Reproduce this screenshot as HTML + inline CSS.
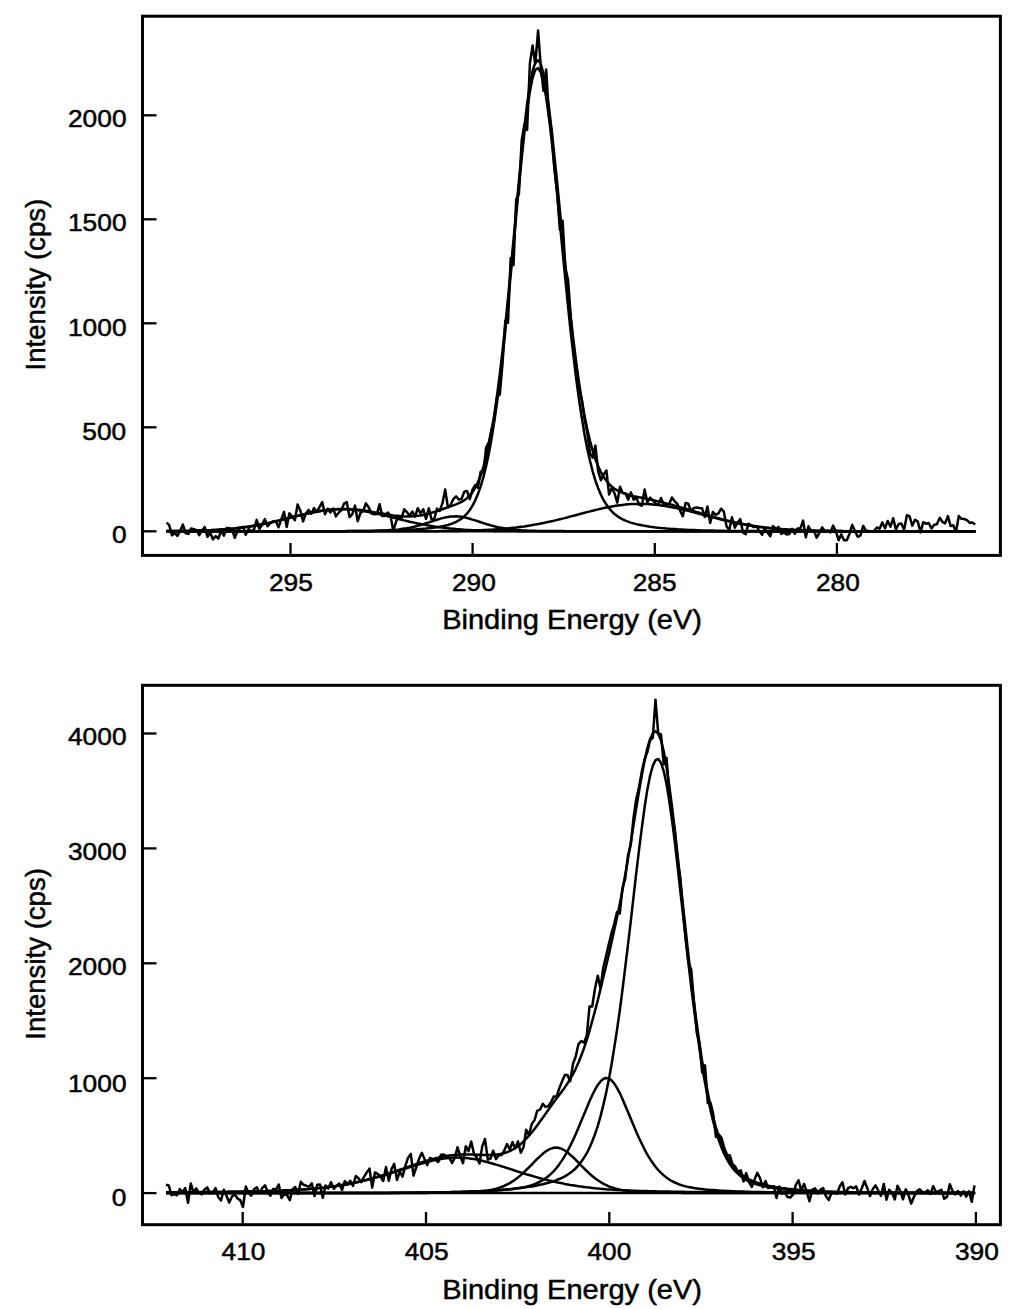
<!DOCTYPE html>
<html><head><meta charset="utf-8"><style>
html,body{margin:0;padding:0;background:#fff;width:1026px;height:1309px;overflow:hidden}
svg{display:block}
.tl{font-family:"Liberation Sans",sans-serif;font-size:25px;fill:#000;stroke:#000;stroke-width:0.5px}
.al{font-family:"Liberation Sans",sans-serif;font-size:28.5px;fill:#000;stroke:#000;stroke-width:0.5px}
</style></head><body>
<svg width="1026" height="1309" viewBox="0 0 1026 1309">
<rect x="142.5" y="16.2" width="857.9" height="539.2" fill="none" stroke="#000" stroke-width="3"/>
<line x1="144" y1="531.3" x2="156.5" y2="531.3" stroke="#000" stroke-width="2.3"/>
<text transform="matrix(1.0530 0 0 0.9850 112.11 543.22)" class="tl">0</text>
<line x1="144" y1="427.3" x2="156.5" y2="427.3" stroke="#000" stroke-width="2.3"/>
<text transform="matrix(1.0530 0 0 0.9850 82.33 440.01)" class="tl">500</text>
<line x1="144" y1="323.3" x2="156.5" y2="323.3" stroke="#000" stroke-width="2.3"/>
<text transform="matrix(1.0530 0 0 0.9850 67.99 335.76)" class="tl">1000</text>
<line x1="144" y1="219.3" x2="156.5" y2="219.3" stroke="#000" stroke-width="2.3"/>
<text transform="matrix(1.0530 0 0 0.9850 67.99 231.42)" class="tl">1500</text>
<line x1="144" y1="115.3" x2="156.5" y2="115.3" stroke="#000" stroke-width="2.3"/>
<text transform="matrix(1.0530 0 0 0.9850 67.99 127.21)" class="tl">2000</text>
<line x1="290.5" y1="543" x2="290.5" y2="554.5" stroke="#000" stroke-width="2.3"/>
<text transform="matrix(1.0530 0 0 0.9850 268.89 591.16)" class="tl">295</text>
<line x1="472.6" y1="543" x2="472.6" y2="554.5" stroke="#000" stroke-width="2.3"/>
<text transform="matrix(1.0530 0 0 0.9850 451.89 591.16)" class="tl">290</text>
<line x1="654.8" y1="543" x2="654.8" y2="554.5" stroke="#000" stroke-width="2.3"/>
<text transform="matrix(1.0530 0 0 0.9850 632.69 591.16)" class="tl">285</text>
<line x1="836.9" y1="543" x2="836.9" y2="554.5" stroke="#000" stroke-width="2.3"/>
<text transform="matrix(1.0530 0 0 0.9850 815.99 591.16)" class="tl">280</text>
<text transform="matrix(1.0190 0 0 1.0000 442.16 628.90)" class="al">Binding Energy (eV)</text>
<text transform="matrix(0 -0.9680 1.0000 0 45.20 370.40)" class="al">Intensity (cps)</text>
<line x1="166.5" y1="531.3" x2="976" y2="531.3" stroke="#000" stroke-width="2.50"/>
<path d="M166.5 531.3L169.2 531.3L172.0 531.3L174.7 531.3L177.4 531.3L180.2 531.3L182.9 531.3L185.6 531.3L188.4 531.3L191.1 531.3L193.8 531.3L196.6 531.3L199.3 531.3L202.0 531.3L204.7 531.3L207.5 531.3L210.2 531.3L212.9 531.3L215.7 531.3L218.4 531.3L221.1 531.3L223.9 531.3L226.6 531.3L229.3 531.3L232.1 531.3L234.8 531.3L237.5 531.3L240.3 531.3L243.0 531.3L245.7 531.3L248.5 531.3L251.2 531.3L253.9 531.3L256.7 531.3L259.4 531.3L262.1 531.3L264.9 531.3L267.6 531.3L270.3 531.3L273.0 531.3L275.8 531.3L278.5 531.3L281.2 531.3L284.0 531.3L286.7 531.3L289.4 531.3L292.2 531.3L294.9 531.3L297.6 531.3L300.4 531.3L303.1 531.3L305.8 531.3L308.6 531.3L311.3 531.3L314.0 531.3L316.8 531.3L319.5 531.3L322.2 531.2L325.0 531.2L327.7 531.2L330.4 531.2L333.2 531.2L335.9 531.2L338.6 531.2L341.3 531.2L344.1 531.2L346.8 531.2L349.5 531.1L352.3 531.1L355.0 531.1L357.7 531.1L360.5 531.0L363.2 531.0L365.9 531.0L368.7 531.0L371.4 530.9L374.1 530.9L376.9 530.8L379.6 530.8L382.3 530.7L385.1 530.7L387.8 530.6L390.5 530.5L393.3 530.4L396.0 530.4L398.7 530.3L401.5 530.1L404.2 530.0L406.9 529.9L409.6 529.8L412.4 529.6L415.1 529.4L417.8 529.2L420.6 529.0L423.3 528.8L426.0 528.6L428.8 528.3L431.5 528.0L434.2 527.6L437.0 527.2L439.7 526.8L442.4 526.3L445.2 525.7L447.9 525.0L450.6 524.1L453.4 523.1L456.1 521.9L458.8 520.4L461.6 518.6L464.3 516.3L467.0 513.5L469.8 510.0L472.5 505.7L475.2 500.5L477.9 494.1L480.7 486.4L483.4 477.1L486.1 466.2L488.9 453.3L491.6 438.4L494.3 421.3L497.1 402.0L499.8 380.5L502.5 356.8L505.3 331.2L508.0 303.8L510.7 275.1L513.5 245.6L516.2 215.8L518.9 186.5L521.7 158.5L524.4 132.7L527.1 110.0L529.9 91.4L532.6 77.8L535.3 69.9L538.1 68.0L540.8 72.3L543.5 82.4L546.2 97.7L549.0 117.5L551.7 140.9L554.4 166.8L557.2 194.5L559.9 223.0L562.6 251.6L565.4 279.8L568.1 307.1L570.8 332.9L573.6 357.1L576.3 379.4L579.0 399.7L581.8 417.9L584.5 434.2L587.2 448.4L590.0 460.8L592.7 471.5L595.4 480.6L598.2 488.3L600.9 494.7L603.6 500.1L606.4 504.6L609.1 508.3L611.8 511.4L614.5 514.0L617.3 516.1L620.0 517.9L622.7 519.3L625.5 520.6L628.2 521.7L630.9 522.6L633.7 523.4L636.4 524.1L639.1 524.7L641.9 525.3L644.6 525.8L647.3 526.2L650.1 526.7L652.8 527.0L655.5 527.4L658.3 527.7L661.0 528.0L663.7 528.2L666.5 528.5L669.2 528.7L671.9 528.9L674.7 529.1L677.4 529.3L680.1 529.4L682.8 529.6L685.6 529.7L688.3 529.9L691.0 530.0L693.8 530.1L696.5 530.2L699.2 530.3L702.0 530.4L704.7 530.4L707.4 530.5L710.2 530.6L712.9 530.6L715.6 530.7L718.4 530.7L721.1 530.8L723.8 530.8L726.6 530.9L729.3 530.9L732.0 530.9L734.8 531.0L737.5 531.0L740.2 531.0L743.0 531.1L745.7 531.1L748.4 531.1L751.1 531.1L753.9 531.1L756.6 531.1L759.3 531.2L762.1 531.2L764.8 531.2L767.5 531.2L770.3 531.2L773.0 531.2L775.7 531.2L778.5 531.2L781.2 531.2L783.9 531.2L786.7 531.3L789.4 531.3L792.1 531.3L794.9 531.3L797.6 531.3L800.3 531.3L803.1 531.3L805.8 531.3L808.5 531.3L811.3 531.3L814.0 531.3L816.7 531.3L819.4 531.3L822.2 531.3L824.9 531.3L827.6 531.3L830.4 531.3L833.1 531.3L835.8 531.3L838.6 531.3L841.3 531.3L844.0 531.3L846.8 531.3L849.5 531.3L852.2 531.3L855.0 531.3L857.7 531.3L860.4 531.3L863.2 531.3L865.9 531.3L868.6 531.3L871.4 531.3L874.1 531.3L876.8 531.3L879.6 531.3L882.3 531.3L885.0 531.3L887.7 531.3L890.5 531.3L893.2 531.3L895.9 531.3L898.7 531.3L901.4 531.3L904.1 531.3L906.9 531.3L909.6 531.3L912.3 531.3L915.1 531.3L917.8 531.3L920.5 531.3L923.3 531.3L926.0 531.3L928.7 531.3L931.5 531.3L934.2 531.3L936.9 531.3L939.7 531.3L942.4 531.3L945.1 531.3L947.9 531.3L950.6 531.3L953.3 531.3L956.0 531.3L958.8 531.3L961.5 531.3L964.2 531.3L967.0 531.3L969.7 531.3L972.4 531.3L975.2 531.3" fill="none" stroke="#000" stroke-width="2.50" stroke-linejoin="round"/>
<path d="M166.5 531.1L169.2 531.1L172.0 531.1L174.7 531.1L177.4 531.1L180.2 531.0L182.9 531.0L185.6 530.9L188.4 530.9L191.1 530.8L193.8 530.8L196.6 530.7L199.3 530.6L202.0 530.6L204.7 530.5L207.5 530.4L210.2 530.2L212.9 530.1L215.7 530.0L218.4 529.8L221.1 529.6L223.9 529.4L226.6 529.2L229.3 529.0L232.1 528.7L234.8 528.4L237.5 528.1L240.3 527.8L243.0 527.5L245.7 527.1L248.5 526.7L251.2 526.3L253.9 525.8L256.7 525.3L259.4 524.8L262.1 524.3L264.9 523.7L267.6 523.2L270.3 522.6L273.0 522.0L275.8 521.3L278.5 520.7L281.2 520.0L284.0 519.3L286.7 518.6L289.4 518.0L292.2 517.3L294.9 516.6L297.6 515.9L300.4 515.2L303.1 514.6L305.8 514.0L308.6 513.3L311.3 512.8L314.0 512.2L316.8 511.7L319.5 511.2L322.2 510.8L325.0 510.4L327.7 510.1L330.4 509.8L333.2 509.6L335.9 509.4L338.6 509.3L341.3 509.3L344.1 509.3L346.8 509.3L349.5 509.5L352.3 509.7L355.0 509.9L357.7 510.2L360.5 510.6L363.2 511.0L365.9 511.5L368.7 512.0L371.4 512.5L374.1 513.1L376.9 513.7L379.6 514.3L382.3 514.9L385.1 515.6L387.8 516.3L390.5 516.9L393.3 517.6L396.0 518.3L398.7 519.0L401.5 519.7L404.2 520.4L406.9 521.0L409.6 521.7L412.4 522.3L415.1 522.9L417.8 523.5L420.6 524.0L423.3 524.6L426.0 525.1L428.8 525.6L431.5 526.0L434.2 526.5L437.0 526.9L439.7 527.3L442.4 527.6L445.2 528.0L447.9 528.3L450.6 528.6L453.4 528.8L456.1 529.1L458.8 529.3L461.6 529.5L464.3 529.7L467.0 529.9L469.8 530.0L472.5 530.2L475.2 530.3L477.9 530.4L480.7 530.5L483.4 530.6L486.1 530.7L488.9 530.8L491.6 530.8L494.3 530.9L497.1 530.9L499.8 531.0L502.5 531.0L505.3 531.0L508.0 531.1L510.7 531.1L513.5 531.1L516.2 531.1L518.9 531.2L521.7 531.2L524.4 531.2L527.1 531.2L529.9 531.2L532.6 531.2L535.3 531.2L538.1 531.2L540.8 531.2L543.5 531.2L546.2 531.2L549.0 531.2L551.7 531.2L554.4 531.3L557.2 531.3L559.9 531.3L562.6 531.3L565.4 531.3L568.1 531.3L570.8 531.3L573.6 531.3L576.3 531.3L579.0 531.3L581.8 531.3L584.5 531.3L587.2 531.3L590.0 531.3L592.7 531.3L595.4 531.3L598.2 531.3L600.9 531.3L603.6 531.3L606.4 531.3L609.1 531.3L611.8 531.3L614.5 531.3L617.3 531.3L620.0 531.3L622.7 531.3L625.5 531.3L628.2 531.3L630.9 531.3L633.7 531.3L636.4 531.3L639.1 531.3L641.9 531.3L644.6 531.3L647.3 531.3L650.1 531.3L652.8 531.3L655.5 531.3L658.3 531.3L661.0 531.3L663.7 531.3L666.5 531.3L669.2 531.3L671.9 531.3L674.7 531.3L677.4 531.3L680.1 531.3L682.8 531.3L685.6 531.3L688.3 531.3L691.0 531.3L693.8 531.3L696.5 531.3L699.2 531.3L702.0 531.3L704.7 531.3L707.4 531.3L710.2 531.3L712.9 531.3L715.6 531.3L718.4 531.3L721.1 531.3L723.8 531.3L726.6 531.3L729.3 531.3L732.0 531.3L734.8 531.3L737.5 531.3L740.2 531.3L743.0 531.3L745.7 531.3L748.4 531.3L751.1 531.3L753.9 531.3L756.6 531.3L759.3 531.3L762.1 531.3L764.8 531.3L767.5 531.3L770.3 531.3L773.0 531.3L775.7 531.3L778.5 531.3L781.2 531.3L783.9 531.3L786.7 531.3L789.4 531.3L792.1 531.3L794.9 531.3L797.6 531.3L800.3 531.3L803.1 531.3L805.8 531.3L808.5 531.3L811.3 531.3L814.0 531.3L816.7 531.3L819.4 531.3L822.2 531.3L824.9 531.3L827.6 531.3L830.4 531.3L833.1 531.3L835.8 531.3L838.6 531.3L841.3 531.3L844.0 531.3L846.8 531.3L849.5 531.3L852.2 531.3L855.0 531.3L857.7 531.3L860.4 531.3L863.2 531.3L865.9 531.3L868.6 531.3L871.4 531.3L874.1 531.3L876.8 531.3L879.6 531.3L882.3 531.3L885.0 531.3L887.7 531.3L890.5 531.3L893.2 531.3L895.9 531.3L898.7 531.3L901.4 531.3L904.1 531.3L906.9 531.3L909.6 531.3L912.3 531.3L915.1 531.3L917.8 531.3L920.5 531.3L923.3 531.3L926.0 531.3L928.7 531.3L931.5 531.3L934.2 531.3L936.9 531.3L939.7 531.3L942.4 531.3L945.1 531.3L947.9 531.3L950.6 531.3L953.3 531.3L956.0 531.3L958.8 531.3L961.5 531.3L964.2 531.3L967.0 531.3L969.7 531.3L972.4 531.3L975.2 531.3" fill="none" stroke="#000" stroke-width="2.50" stroke-linejoin="round"/>
<path d="M166.5 531.3L169.2 531.3L172.0 531.3L174.7 531.3L177.4 531.3L180.2 531.3L182.9 531.3L185.6 531.3L188.4 531.3L191.1 531.3L193.8 531.3L196.6 531.3L199.3 531.3L202.0 531.3L204.7 531.3L207.5 531.3L210.2 531.3L212.9 531.3L215.7 531.3L218.4 531.3L221.1 531.3L223.9 531.3L226.6 531.3L229.3 531.3L232.1 531.3L234.8 531.3L237.5 531.3L240.3 531.3L243.0 531.3L245.7 531.3L248.5 531.3L251.2 531.3L253.9 531.3L256.7 531.3L259.4 531.3L262.1 531.3L264.9 531.3L267.6 531.3L270.3 531.3L273.0 531.3L275.8 531.3L278.5 531.3L281.2 531.3L284.0 531.3L286.7 531.3L289.4 531.3L292.2 531.3L294.9 531.3L297.6 531.3L300.4 531.3L303.1 531.3L305.8 531.3L308.6 531.3L311.3 531.2L314.0 531.2L316.8 531.2L319.5 531.2L322.2 531.2L325.0 531.2L327.7 531.2L330.4 531.2L333.2 531.2L335.9 531.2L338.6 531.2L341.3 531.2L344.1 531.2L346.8 531.1L349.5 531.1L352.3 531.1L355.0 531.1L357.7 531.1L360.5 531.0L363.2 531.0L365.9 531.0L368.7 530.9L371.4 530.9L374.1 530.8L376.9 530.8L379.6 530.7L382.3 530.6L385.1 530.5L387.8 530.3L390.5 530.1L393.3 529.9L396.0 529.7L398.7 529.4L401.5 529.0L404.2 528.6L406.9 528.2L409.6 527.7L412.4 527.1L415.1 526.5L417.8 525.7L420.6 525.0L423.3 524.2L426.0 523.3L428.8 522.4L431.5 521.5L434.2 520.6L437.0 519.7L439.7 518.9L442.4 518.1L445.2 517.5L447.9 516.9L450.6 516.6L453.4 516.4L456.1 516.3L458.8 516.5L461.6 516.8L464.3 517.4L467.0 518.0L469.8 518.7L472.5 519.6L475.2 520.4L477.9 521.3L480.7 522.2L483.4 523.1L486.1 524.0L488.9 524.8L491.6 525.6L494.3 526.3L497.1 527.0L499.8 527.6L502.5 528.1L505.3 528.6L508.0 529.0L510.7 529.3L513.5 529.6L516.2 529.9L518.9 530.1L521.7 530.3L524.4 530.4L527.1 530.6L529.9 530.7L532.6 530.7L535.3 530.8L538.1 530.9L540.8 530.9L543.5 531.0L546.2 531.0L549.0 531.0L551.7 531.1L554.4 531.1L557.2 531.1L559.9 531.1L562.6 531.1L565.4 531.2L568.1 531.2L570.8 531.2L573.6 531.2L576.3 531.2L579.0 531.2L581.8 531.2L584.5 531.2L587.2 531.2L590.0 531.2L592.7 531.2L595.4 531.2L598.2 531.2L600.9 531.3L603.6 531.3L606.4 531.3L609.1 531.3L611.8 531.3L614.5 531.3L617.3 531.3L620.0 531.3L622.7 531.3L625.5 531.3L628.2 531.3L630.9 531.3L633.7 531.3L636.4 531.3L639.1 531.3L641.9 531.3L644.6 531.3L647.3 531.3L650.1 531.3L652.8 531.3L655.5 531.3L658.3 531.3L661.0 531.3L663.7 531.3L666.5 531.3L669.2 531.3L671.9 531.3L674.7 531.3L677.4 531.3L680.1 531.3L682.8 531.3L685.6 531.3L688.3 531.3L691.0 531.3L693.8 531.3L696.5 531.3L699.2 531.3L702.0 531.3L704.7 531.3L707.4 531.3L710.2 531.3L712.9 531.3L715.6 531.3L718.4 531.3L721.1 531.3L723.8 531.3L726.6 531.3L729.3 531.3L732.0 531.3L734.8 531.3L737.5 531.3L740.2 531.3L743.0 531.3L745.7 531.3L748.4 531.3L751.1 531.3L753.9 531.3L756.6 531.3L759.3 531.3L762.1 531.3L764.8 531.3L767.5 531.3L770.3 531.3L773.0 531.3L775.7 531.3L778.5 531.3L781.2 531.3L783.9 531.3L786.7 531.3L789.4 531.3L792.1 531.3L794.9 531.3L797.6 531.3L800.3 531.3L803.1 531.3L805.8 531.3L808.5 531.3L811.3 531.3L814.0 531.3L816.7 531.3L819.4 531.3L822.2 531.3L824.9 531.3L827.6 531.3L830.4 531.3L833.1 531.3L835.8 531.3L838.6 531.3L841.3 531.3L844.0 531.3L846.8 531.3L849.5 531.3L852.2 531.3L855.0 531.3L857.7 531.3L860.4 531.3L863.2 531.3L865.9 531.3L868.6 531.3L871.4 531.3L874.1 531.3L876.8 531.3L879.6 531.3L882.3 531.3L885.0 531.3L887.7 531.3L890.5 531.3L893.2 531.3L895.9 531.3L898.7 531.3L901.4 531.3L904.1 531.3L906.9 531.3L909.6 531.3L912.3 531.3L915.1 531.3L917.8 531.3L920.5 531.3L923.3 531.3L926.0 531.3L928.7 531.3L931.5 531.3L934.2 531.3L936.9 531.3L939.7 531.3L942.4 531.3L945.1 531.3L947.9 531.3L950.6 531.3L953.3 531.3L956.0 531.3L958.8 531.3L961.5 531.3L964.2 531.3L967.0 531.3L969.7 531.3L972.4 531.3L975.2 531.3" fill="none" stroke="#000" stroke-width="2.50" stroke-linejoin="round"/>
<path d="M166.5 531.3L169.2 531.3L172.0 531.3L174.7 531.3L177.4 531.3L180.2 531.3L182.9 531.3L185.6 531.3L188.4 531.3L191.1 531.3L193.8 531.3L196.6 531.3L199.3 531.3L202.0 531.3L204.7 531.3L207.5 531.3L210.2 531.3L212.9 531.3L215.7 531.3L218.4 531.3L221.1 531.3L223.9 531.3L226.6 531.3L229.3 531.3L232.1 531.3L234.8 531.3L237.5 531.3L240.3 531.3L243.0 531.3L245.7 531.3L248.5 531.3L251.2 531.3L253.9 531.3L256.7 531.3L259.4 531.3L262.1 531.3L264.9 531.3L267.6 531.3L270.3 531.3L273.0 531.3L275.8 531.3L278.5 531.3L281.2 531.3L284.0 531.3L286.7 531.3L289.4 531.3L292.2 531.3L294.9 531.3L297.6 531.3L300.4 531.3L303.1 531.3L305.8 531.3L308.6 531.3L311.3 531.3L314.0 531.3L316.8 531.3L319.5 531.3L322.2 531.3L325.0 531.3L327.7 531.3L330.4 531.3L333.2 531.3L335.9 531.3L338.6 531.3L341.3 531.3L344.1 531.3L346.8 531.3L349.5 531.3L352.3 531.3L355.0 531.3L357.7 531.3L360.5 531.3L363.2 531.3L365.9 531.3L368.7 531.3L371.4 531.3L374.1 531.3L376.9 531.3L379.6 531.3L382.3 531.3L385.1 531.3L387.8 531.3L390.5 531.3L393.3 531.3L396.0 531.3L398.7 531.3L401.5 531.3L404.2 531.3L406.9 531.3L409.6 531.3L412.4 531.3L415.1 531.3L417.8 531.3L420.6 531.2L423.3 531.2L426.0 531.2L428.8 531.2L431.5 531.2L434.2 531.2L437.0 531.2L439.7 531.1L442.4 531.1L445.2 531.1L447.9 531.1L450.6 531.0L453.4 531.0L456.1 530.9L458.8 530.9L461.6 530.8L464.3 530.8L467.0 530.7L469.8 530.6L472.5 530.6L475.2 530.5L477.9 530.4L480.7 530.2L483.4 530.1L486.1 530.0L488.9 529.8L491.6 529.7L494.3 529.5L497.1 529.3L499.8 529.1L502.5 528.9L505.3 528.6L508.0 528.4L510.7 528.1L513.5 527.8L516.2 527.5L518.9 527.1L521.7 526.7L524.4 526.4L527.1 525.9L529.9 525.5L532.6 525.1L535.3 524.6L538.1 524.1L540.8 523.5L543.5 523.0L546.2 522.4L549.0 521.8L551.7 521.2L554.4 520.6L557.2 519.9L559.9 519.2L562.6 518.6L565.4 517.9L568.1 517.2L570.8 516.4L573.6 515.7L576.3 515.0L579.0 514.3L581.8 513.5L584.5 512.8L587.2 512.1L590.0 511.4L592.7 510.7L595.4 510.0L598.2 509.4L600.9 508.7L603.6 508.1L606.4 507.6L609.1 507.0L611.8 506.5L614.5 506.0L617.3 505.6L620.0 505.2L622.7 504.9L625.5 504.6L628.2 504.3L630.9 504.1L633.7 504.0L636.4 503.9L639.1 503.8L641.9 503.9L644.6 503.9L647.3 504.0L650.1 504.2L652.8 504.4L655.5 504.7L658.3 505.0L661.0 505.4L663.7 505.8L666.5 506.2L669.2 506.7L671.9 507.2L674.7 507.8L677.4 508.4L680.1 509.0L682.8 509.6L685.6 510.3L688.3 510.9L691.0 511.6L693.8 512.4L696.5 513.1L699.2 513.8L702.0 514.5L704.7 515.3L707.4 516.0L710.2 516.7L712.9 517.4L715.6 518.1L718.4 518.8L721.1 519.5L723.8 520.2L726.6 520.8L729.3 521.4L732.0 522.0L734.8 522.6L737.5 523.2L740.2 523.7L743.0 524.3L745.7 524.7L748.4 525.2L751.1 525.7L753.9 526.1L756.6 526.5L759.3 526.9L762.1 527.2L764.8 527.6L767.5 527.9L770.3 528.2L773.0 528.5L775.7 528.7L778.5 529.0L781.2 529.2L783.9 529.4L786.7 529.6L789.4 529.7L792.1 529.9L794.9 530.0L797.6 530.2L800.3 530.3L803.1 530.4L805.8 530.5L808.5 530.6L811.3 530.7L814.0 530.7L816.7 530.8L819.4 530.9L822.2 530.9L824.9 531.0L827.6 531.0L830.4 531.0L833.1 531.1L835.8 531.1L838.6 531.1L841.3 531.1L844.0 531.2L846.8 531.2L849.5 531.2L852.2 531.2L855.0 531.2L857.7 531.2L860.4 531.2L863.2 531.3L865.9 531.3L868.6 531.3L871.4 531.3L874.1 531.3L876.8 531.3L879.6 531.3L882.3 531.3L885.0 531.3L887.7 531.3L890.5 531.3L893.2 531.3L895.9 531.3L898.7 531.3L901.4 531.3L904.1 531.3L906.9 531.3L909.6 531.3L912.3 531.3L915.1 531.3L917.8 531.3L920.5 531.3L923.3 531.3L926.0 531.3L928.7 531.3L931.5 531.3L934.2 531.3L936.9 531.3L939.7 531.3L942.4 531.3L945.1 531.3L947.9 531.3L950.6 531.3L953.3 531.3L956.0 531.3L958.8 531.3L961.5 531.3L964.2 531.3L967.0 531.3L969.7 531.3L972.4 531.3L975.2 531.3" fill="none" stroke="#000" stroke-width="2.50" stroke-linejoin="round"/>
<path d="M166.5 531.1L169.2 531.1L172.0 531.1L174.7 531.1L177.4 531.1L180.2 531.0L182.9 531.0L185.6 530.9L188.4 530.9L191.1 530.8L193.8 530.8L196.6 530.7L199.3 530.6L202.0 530.6L204.7 530.5L207.5 530.4L210.2 530.2L212.9 530.1L215.7 530.0L218.4 529.8L221.1 529.6L223.9 529.4L226.6 529.2L229.3 529.0L232.1 528.7L234.8 528.4L237.5 528.1L240.3 527.8L243.0 527.5L245.7 527.1L248.5 526.7L251.2 526.3L253.9 525.8L256.7 525.3L259.4 524.8L262.1 524.3L264.9 523.7L267.6 523.2L270.3 522.6L273.0 521.9L275.8 521.3L278.5 520.6L281.2 520.0L284.0 519.3L286.7 518.6L289.4 517.9L292.2 517.2L294.9 516.5L297.6 515.9L300.4 515.2L303.1 514.5L305.8 513.9L308.6 513.3L311.3 512.7L314.0 512.1L316.8 511.6L319.5 511.1L322.2 510.7L325.0 510.3L327.7 509.9L330.4 509.6L333.2 509.4L335.9 509.2L338.6 509.1L341.3 509.0L344.1 509.0L346.8 509.0L349.5 509.1L352.3 509.3L355.0 509.5L357.7 509.8L360.5 510.1L363.2 510.4L365.9 510.8L368.7 511.2L371.4 511.7L374.1 512.2L376.9 512.6L379.6 513.1L382.3 513.6L385.1 514.1L387.8 514.6L390.5 515.0L393.3 515.4L396.0 515.7L398.7 516.0L401.5 516.3L404.2 516.4L406.9 516.5L409.6 516.5L412.4 516.3L415.1 516.1L417.8 515.8L420.6 515.4L423.3 514.9L426.0 514.3L428.8 513.6L431.5 512.8L434.2 512.0L437.0 511.1L439.7 510.2L442.4 509.3L445.2 508.3L447.9 507.4L450.6 506.4L453.4 505.4L456.1 504.4L458.8 503.2L461.6 501.9L464.3 500.2L467.0 498.2L469.8 495.5L472.5 492.1L475.2 487.8L477.9 482.3L480.7 475.5L483.4 467.1L486.1 456.9L488.9 444.8L491.6 430.6L494.3 414.1L497.1 395.3L499.8 374.2L502.5 350.9L505.3 325.5L508.0 298.3L510.7 269.7L513.5 240.2L516.2 210.4L518.9 181.0L521.7 152.8L524.4 126.8L527.1 103.8L529.9 84.9L532.6 70.9L535.3 62.6L538.1 60.3L540.8 64.1L543.5 73.6L546.2 88.5L549.0 107.7L551.7 130.5L554.4 155.8L557.2 182.9L559.9 210.7L562.6 238.7L565.4 266.2L568.1 292.7L570.8 317.9L573.6 341.3L576.3 362.9L579.0 382.5L581.8 400.1L584.5 415.6L587.2 429.1L590.0 440.8L592.7 450.8L595.4 459.2L598.2 466.3L600.9 472.1L603.6 476.9L606.4 480.8L609.1 484.0L611.8 486.6L614.5 488.7L617.3 490.4L620.0 491.7L622.7 492.9L625.5 493.8L628.2 494.7L630.9 495.4L633.7 496.1L636.4 496.7L639.1 497.3L641.9 497.8L644.6 498.4L647.3 499.0L650.1 499.5L652.8 500.1L655.5 500.7L658.3 501.4L661.0 502.0L663.7 502.7L666.5 503.4L669.2 504.1L671.9 504.8L674.7 505.6L677.4 506.3L680.1 507.1L682.8 507.9L685.6 508.7L688.3 509.5L691.0 510.3L693.8 511.1L696.5 512.0L699.2 512.8L702.0 513.6L704.7 514.4L707.4 515.2L710.2 516.0L712.9 516.8L715.6 517.5L718.4 518.3L721.1 519.0L723.8 519.7L726.6 520.4L729.3 521.0L732.0 521.7L734.8 522.3L737.5 522.9L740.2 523.5L743.0 524.0L745.7 524.5L748.4 525.0L751.1 525.5L753.9 525.9L756.6 526.4L759.3 526.7L762.1 527.1L764.8 527.5L767.5 527.8L770.3 528.1L773.0 528.4L775.7 528.6L778.5 528.9L781.2 529.1L783.9 529.3L786.7 529.5L789.4 529.7L792.1 529.8L794.9 530.0L797.6 530.1L800.3 530.3L803.1 530.4L805.8 530.5L808.5 530.6L811.3 530.6L814.0 530.7L816.7 530.8L819.4 530.8L822.2 530.9L824.9 530.9L827.6 531.0L830.4 531.0L833.1 531.1L835.8 531.1L838.6 531.1L841.3 531.1L844.0 531.2L846.8 531.2L849.5 531.2L852.2 531.2L855.0 531.2L857.7 531.2L860.4 531.2L863.2 531.3L865.9 531.3L868.6 531.3L871.4 531.3L874.1 531.3L876.8 531.3L879.6 531.3L882.3 531.3L885.0 531.3L887.7 531.3L890.5 531.3L893.2 531.3L895.9 531.3L898.7 531.3L901.4 531.3L904.1 531.3L906.9 531.3L909.6 531.3L912.3 531.3L915.1 531.3L917.8 531.3L920.5 531.3L923.3 531.3L926.0 531.3L928.7 531.3L931.5 531.3L934.2 531.3L936.9 531.3L939.7 531.3L942.4 531.3L945.1 531.3L947.9 531.3L950.6 531.3L953.3 531.3L956.0 531.3L958.8 531.3L961.5 531.3L964.2 531.3L967.0 531.3L969.7 531.3L972.4 531.3L975.2 531.3" fill="none" stroke="#000" stroke-width="2.50" stroke-linejoin="round"/>
<path d="M166.5 522.6L169.2 525.1L172.0 535.3L174.7 533.2L177.4 535.8L180.2 530.7L182.9 524.6L185.6 533.3L188.4 533.9L191.1 528.5L193.8 529.1L196.6 530.2L199.3 535.1L202.0 530.7L204.7 527.1L207.5 536.8L210.2 532.4L212.9 539.3L215.7 536.2L218.4 538.7L221.1 530.8L223.9 535.6L226.6 527.9L229.3 528.2L232.1 529.6L234.8 537.8L237.5 530.8L240.3 528.0L243.0 526.9L245.7 534.7L248.5 529.1L251.2 531.2L253.9 529.9L256.7 519.9L259.4 529.0L262.1 524.5L264.9 519.1L267.6 526.2L270.3 523.1L273.0 521.3L275.8 521.0L278.5 527.3L281.2 519.6L284.0 511.9L286.7 527.1L289.4 513.2L292.2 516.6L294.9 520.2L297.6 504.5L300.4 510.8L303.1 521.4L305.8 513.5L308.6 509.9L311.3 513.8L314.0 508.1L316.8 512.0L319.5 507.2L322.2 502.1L325.0 514.3L327.7 508.7L330.4 512.4L333.2 508.6L335.9 516.4L338.6 512.6L341.3 510.2L344.1 503.6L346.8 502.1L349.5 517.1L352.3 514.1L355.0 505.6L357.7 521.2L360.5 512.9L363.2 511.0L365.9 503.4L368.7 507.2L371.4 513.6L374.1 514.3L376.9 514.1L379.6 504.3L382.3 516.1L385.1 515.8L387.8 512.5L390.5 515.6L393.3 530.9L396.0 521.9L398.7 515.8L401.5 518.4L404.2 509.3L406.9 512.1L409.6 515.7L412.4 511.5L415.1 516.7L417.8 508.2L420.6 513.4L423.3 509.2L426.0 519.0L428.8 508.4L431.5 519.1L434.2 519.2L437.0 508.6L439.7 511.0L442.4 503.4L445.2 489.6L447.9 507.3L450.6 505.1L453.4 499.0L456.1 496.3L458.8 499.6L461.6 498.7L464.3 491.6L467.0 491.0L469.8 499.1L472.5 489.7L475.2 485.0L477.9 487.8L480.7 471.7L483.4 472.4L486.1 447.6L488.9 442.2L491.6 429.0L494.3 419.3L497.1 396.1L499.8 394.7L502.5 363.8L505.3 320.8L508.0 322.8L510.7 258.1L513.5 265.1L516.2 199.0L518.9 194.1L521.7 140.3L524.4 124.6L527.1 130.0L529.9 63.2L532.6 45.6L535.3 63.7L538.1 30.6L540.8 66.9L543.5 90.8L546.2 69.5L549.0 116.9L551.7 131.3L554.4 168.6L557.2 192.6L559.9 229.8L562.6 220.7L565.4 268.3L568.1 280.1L570.8 317.7L573.6 349.6L576.3 366.6L579.0 388.5L581.8 400.0L584.5 419.2L587.2 431.9L590.0 453.1L592.7 457.7L595.4 445.6L598.2 471.6L600.9 480.2L603.6 474.4L606.4 470.5L609.1 494.5L611.8 488.1L614.5 493.1L617.3 502.6L620.0 486.7L622.7 493.0L625.5 493.4L628.2 499.7L630.9 492.4L633.7 499.7L636.4 497.6L639.1 504.6L641.9 505.8L644.6 489.6L647.3 502.3L650.1 497.6L652.8 500.3L655.5 503.6L658.3 504.6L661.0 498.0L663.7 504.6L666.5 504.3L669.2 503.9L671.9 497.5L674.7 501.3L677.4 504.0L680.1 510.6L682.8 516.3L685.6 502.9L688.3 503.7L691.0 511.2L693.8 507.9L696.5 507.4L699.2 507.9L702.0 508.2L704.7 517.0L707.4 506.5L710.2 523.0L712.9 511.9L715.6 514.8L718.4 513.4L721.1 508.7L723.8 511.6L726.6 526.6L729.3 530.1L732.0 517.3L734.8 527.7L737.5 523.0L740.2 519.1L743.0 532.6L745.7 534.3L748.4 523.7L751.1 525.3L753.9 527.2L756.6 526.2L759.3 531.1L762.1 534.7L764.8 528.3L767.5 532.6L770.3 536.2L773.0 525.9L775.7 528.9L778.5 526.9L781.2 533.9L783.9 532.5L786.7 534.4L789.4 534.0L792.1 528.9L794.9 533.8L797.6 528.4L800.3 528.6L803.1 520.6L805.8 537.2L808.5 526.3L811.3 531.1L814.0 530.8L816.7 537.7L819.4 533.0L822.2 527.4L824.9 531.3L827.6 530.6L830.4 532.4L833.1 525.6L835.8 531.2L838.6 540.2L841.3 534.4L844.0 540.2L846.8 540.2L849.5 533.7L852.2 524.9L855.0 531.0L857.7 536.8L860.4 535.7L863.2 525.9L865.9 530.5L868.6 531.0L871.4 531.5L874.1 531.1L876.8 527.5L879.6 528.7L882.3 522.4L885.0 528.3L887.7 521.0L890.5 526.6L893.2 518.2L895.9 529.4L898.7 524.0L901.4 523.4L904.1 529.7L906.9 515.2L909.6 516.5L912.3 525.6L915.1 519.7L917.8 521.6L920.5 532.4L923.3 522.2L926.0 523.7L928.7 523.0L931.5 528.5L934.2 524.7L936.9 524.2L939.7 517.8L942.4 521.8L945.1 523.4L947.9 516.1L950.6 526.0L953.3 525.2L956.0 532.0L958.8 516.0L961.5 518.8L964.2 519.0L967.0 520.2L969.7 522.9L972.4 522.4L975.2 524.6" fill="none" stroke="#000" stroke-width="2.50" stroke-linejoin="round"/>
<rect x="142.5" y="685.3" width="857.9" height="539.4" fill="none" stroke="#000" stroke-width="3"/>
<line x1="144" y1="1193.1" x2="156.5" y2="1193.1" stroke="#000" stroke-width="2.3"/>
<text transform="matrix(1.0530 0 0 0.9850 111.81 1206.21)" class="tl">0</text>
<line x1="144" y1="1078.2" x2="156.5" y2="1078.2" stroke="#000" stroke-width="2.3"/>
<text transform="matrix(1.0530 0 0 0.9850 67.99 1091.66)" class="tl">1000</text>
<line x1="144" y1="963.3" x2="156.5" y2="963.3" stroke="#000" stroke-width="2.3"/>
<text transform="matrix(1.0530 0 0 0.9850 67.99 975.12)" class="tl">2000</text>
<line x1="144" y1="848.4" x2="156.5" y2="848.4" stroke="#000" stroke-width="2.3"/>
<text transform="matrix(1.0530 0 0 0.9850 67.99 859.82)" class="tl">3000</text>
<line x1="144" y1="733.5" x2="156.5" y2="733.5" stroke="#000" stroke-width="2.3"/>
<text transform="matrix(1.0530 0 0 0.9850 67.99 745.12)" class="tl">4000</text>
<line x1="242.7" y1="1212" x2="242.7" y2="1223.5" stroke="#000" stroke-width="2.3"/>
<text transform="matrix(1.0530 0 0 0.9850 221.59 1260.46)" class="tl">410</text>
<line x1="426.0" y1="1212" x2="426.0" y2="1223.5" stroke="#000" stroke-width="2.3"/>
<text transform="matrix(1.0530 0 0 0.9850 404.69 1260.46)" class="tl">405</text>
<line x1="609.3" y1="1212" x2="609.3" y2="1223.5" stroke="#000" stroke-width="2.3"/>
<text transform="matrix(1.0530 0 0 0.9850 587.39 1260.46)" class="tl">400</text>
<line x1="792.6" y1="1212" x2="792.6" y2="1223.5" stroke="#000" stroke-width="2.3"/>
<text transform="matrix(1.0530 0 0 0.9850 771.69 1260.46)" class="tl">395</text>
<line x1="975.9" y1="1212" x2="975.9" y2="1223.5" stroke="#000" stroke-width="2.3"/>
<text transform="matrix(1.0530 0 0 0.9850 954.89 1260.46)" class="tl">390</text>
<text transform="matrix(1.0190 0 0 1.0000 442.16 1298.60)" class="al">Binding Energy (eV)</text>
<text transform="matrix(0 -0.9680 1.0000 0 45.20 1039.70)" class="al">Intensity (cps)</text>
<line x1="166" y1="1193.1" x2="975.5" y2="1193.1" stroke="#000" stroke-width="2.50"/>
<path d="M166.0 1193.1L168.8 1193.1L171.5 1193.1L174.2 1193.1L177.0 1193.1L179.8 1193.1L182.5 1193.1L185.2 1193.1L188.0 1193.1L190.8 1193.1L193.5 1193.1L196.2 1193.1L199.0 1193.1L201.8 1193.1L204.5 1193.1L207.2 1193.1L210.0 1193.1L212.8 1193.1L215.5 1193.1L218.2 1193.1L221.0 1193.1L223.8 1193.1L226.5 1193.1L229.2 1193.1L232.0 1193.1L234.8 1193.1L237.5 1193.1L240.2 1193.1L243.0 1193.1L245.8 1193.1L248.5 1193.1L251.2 1193.1L254.0 1193.1L256.8 1193.1L259.5 1193.1L262.2 1193.1L265.0 1193.1L267.8 1193.1L270.5 1193.1L273.2 1193.1L276.0 1193.1L278.8 1193.1L281.5 1193.1L284.2 1193.1L287.0 1193.1L289.8 1193.1L292.5 1193.1L295.2 1193.1L298.0 1193.1L300.8 1193.1L303.5 1193.1L306.2 1193.1L309.0 1193.1L311.8 1193.1L314.5 1193.1L317.2 1193.1L320.0 1193.1L322.8 1193.1L325.5 1193.1L328.2 1193.1L331.0 1193.1L333.8 1193.1L336.5 1193.1L339.2 1193.1L342.0 1193.1L344.8 1193.0L347.5 1193.0L350.2 1193.0L353.0 1193.0L355.8 1193.0L358.5 1193.0L361.2 1193.0L364.0 1193.0L366.8 1193.0L369.5 1193.0L372.2 1193.0L375.0 1193.0L377.8 1193.0L380.5 1193.0L383.2 1192.9L386.0 1192.9L388.8 1192.9L391.5 1192.9L394.2 1192.9L397.0 1192.9L399.8 1192.9L402.5 1192.8L405.2 1192.8L408.0 1192.8L410.8 1192.8L413.5 1192.7L416.2 1192.7L419.0 1192.7L421.8 1192.7L424.5 1192.6L427.2 1192.6L430.0 1192.5L432.8 1192.5L435.5 1192.5L438.2 1192.4L441.0 1192.4L443.8 1192.3L446.5 1192.3L449.2 1192.2L452.0 1192.1L454.8 1192.1L457.5 1192.0L460.2 1191.9L463.0 1191.8L465.8 1191.7L468.5 1191.6L471.2 1191.5L474.0 1191.4L476.8 1191.3L479.5 1191.2L482.2 1191.1L485.0 1190.9L487.8 1190.8L490.5 1190.6L493.2 1190.4L496.0 1190.3L498.8 1190.1L501.5 1189.9L504.2 1189.6L507.0 1189.4L509.8 1189.2L512.5 1188.9L515.2 1188.6L518.0 1188.3L520.8 1187.9L523.5 1187.6L526.2 1187.2L529.0 1186.8L531.8 1186.4L534.5 1185.9L537.2 1185.4L540.0 1184.8L542.8 1184.2L545.5 1183.5L548.2 1182.8L551.0 1182.0L553.8 1181.1L556.5 1180.2L559.2 1179.0L562.0 1177.8L564.8 1176.4L567.5 1174.7L570.2 1172.9L573.0 1170.7L575.8 1168.2L578.5 1165.2L581.2 1161.8L584.0 1157.8L586.8 1153.2L589.5 1147.7L592.2 1141.5L595.0 1134.2L597.8 1125.9L600.5 1116.4L603.2 1105.6L606.0 1093.4L608.8 1079.8L611.5 1064.7L614.2 1048.1L617.0 1030.0L619.8 1010.5L622.5 989.7L625.2 967.7L628.0 944.7L630.8 921.1L633.5 897.1L636.2 873.3L639.0 850.1L641.8 828.1L644.5 808.0L647.2 790.4L650.0 776.2L652.8 765.9L655.5 760.1L658.2 759.0L661.0 762.8L663.8 771.3L666.5 784.1L669.2 800.6L672.0 820.1L674.8 841.9L677.5 865.4L680.2 889.8L683.0 914.6L685.8 939.3L688.5 963.5L691.2 986.8L694.0 1008.9L696.8 1029.7L699.5 1049.0L702.2 1066.7L705.0 1082.8L707.8 1097.3L710.5 1110.1L713.2 1121.5L716.0 1131.5L718.8 1140.1L721.5 1147.6L724.2 1153.9L727.0 1159.4L729.8 1164.0L732.5 1167.9L735.2 1171.2L738.0 1173.9L740.8 1176.3L743.5 1178.2L746.2 1179.9L749.0 1181.3L751.8 1182.5L754.5 1183.6L757.2 1184.5L760.0 1185.2L762.8 1185.9L765.5 1186.6L768.2 1187.1L771.0 1187.6L773.8 1188.1L776.5 1188.5L779.2 1188.8L782.0 1189.2L784.8 1189.5L787.5 1189.8L790.2 1190.0L793.0 1190.3L795.8 1190.5L798.5 1190.7L801.2 1190.9L804.0 1191.1L806.8 1191.2L809.5 1191.4L812.2 1191.5L815.0 1191.6L817.8 1191.8L820.5 1191.9L823.2 1192.0L826.0 1192.1L828.8 1192.2L831.5 1192.2L834.2 1192.3L837.0 1192.4L839.8 1192.4L842.5 1192.5L845.2 1192.5L848.0 1192.6L850.8 1192.6L853.5 1192.7L856.2 1192.7L859.0 1192.7L861.8 1192.8L864.5 1192.8L867.2 1192.8L870.0 1192.9L872.8 1192.9L875.5 1192.9L878.2 1192.9L881.0 1192.9L883.8 1192.9L886.5 1193.0L889.2 1193.0L892.0 1193.0L894.8 1193.0L897.5 1193.0L900.2 1193.0L903.0 1193.0L905.8 1193.0L908.5 1193.0L911.2 1193.0L914.0 1193.0L916.8 1193.1L919.5 1193.1L922.2 1193.1L925.0 1193.1L927.8 1193.1L930.5 1193.1L933.2 1193.1L936.0 1193.1L938.8 1193.1L941.5 1193.1L944.2 1193.1L947.0 1193.1L949.8 1193.1L952.5 1193.1L955.2 1193.1L958.0 1193.1L960.8 1193.1L963.5 1193.1L966.2 1193.1L969.0 1193.1L971.8 1193.1L974.5 1193.1" fill="none" stroke="#000" stroke-width="2.50" stroke-linejoin="round"/>
<path d="M166.0 1193.1L168.8 1193.1L171.5 1193.1L174.2 1193.1L177.0 1193.1L179.8 1193.1L182.5 1193.1L185.2 1193.1L188.0 1193.1L190.8 1193.1L193.5 1193.1L196.2 1193.1L199.0 1193.1L201.8 1193.1L204.5 1193.1L207.2 1193.1L210.0 1193.1L212.8 1193.1L215.5 1193.1L218.2 1193.1L221.0 1193.1L223.8 1193.1L226.5 1193.1L229.2 1193.1L232.0 1193.1L234.8 1193.1L237.5 1193.1L240.2 1193.1L243.0 1193.1L245.8 1193.1L248.5 1193.1L251.2 1193.1L254.0 1193.1L256.8 1193.1L259.5 1193.1L262.2 1193.1L265.0 1193.1L267.8 1193.1L270.5 1193.1L273.2 1193.1L276.0 1193.1L278.8 1193.1L281.5 1193.1L284.2 1193.1L287.0 1193.1L289.8 1193.1L292.5 1193.1L295.2 1193.1L298.0 1193.1L300.8 1193.1L303.5 1193.1L306.2 1193.1L309.0 1193.1L311.8 1193.1L314.5 1193.1L317.2 1193.1L320.0 1193.1L322.8 1193.0L325.5 1193.0L328.2 1193.0L331.0 1193.0L333.8 1193.0L336.5 1193.0L339.2 1193.0L342.0 1193.0L344.8 1193.0L347.5 1193.0L350.2 1193.0L353.0 1193.0L355.8 1193.0L358.5 1193.0L361.2 1193.0L364.0 1193.0L366.8 1192.9L369.5 1192.9L372.2 1192.9L375.0 1192.9L377.8 1192.9L380.5 1192.9L383.2 1192.9L386.0 1192.9L388.8 1192.9L391.5 1192.8L394.2 1192.8L397.0 1192.8L399.8 1192.8L402.5 1192.8L405.2 1192.7L408.0 1192.7L410.8 1192.7L413.5 1192.7L416.2 1192.6L419.0 1192.6L421.8 1192.6L424.5 1192.6L427.2 1192.5L430.0 1192.5L432.8 1192.4L435.5 1192.4L438.2 1192.4L441.0 1192.3L443.8 1192.3L446.5 1192.2L449.2 1192.2L452.0 1192.1L454.8 1192.0L457.5 1192.0L460.2 1191.9L463.0 1191.8L465.8 1191.7L468.5 1191.7L471.2 1191.6L474.0 1191.5L476.8 1191.4L479.5 1191.3L482.2 1191.1L485.0 1191.0L487.8 1190.9L490.5 1190.7L493.2 1190.6L496.0 1190.4L498.8 1190.2L501.5 1190.0L504.2 1189.8L507.0 1189.5L509.8 1189.2L512.5 1188.9L515.2 1188.6L518.0 1188.2L520.8 1187.7L523.5 1187.2L526.2 1186.6L529.0 1185.9L531.8 1185.1L534.5 1184.1L537.2 1183.0L540.0 1181.7L542.8 1180.2L545.5 1178.4L548.2 1176.3L551.0 1173.9L553.8 1171.1L556.5 1168.0L559.2 1164.4L562.0 1160.4L564.8 1156.0L567.5 1151.1L570.2 1145.9L573.0 1140.2L575.8 1134.1L578.5 1127.7L581.2 1121.1L584.0 1114.4L586.8 1107.8L589.5 1101.3L592.2 1095.2L595.0 1089.7L597.8 1085.0L600.5 1081.4L603.2 1079.0L606.0 1078.0L608.8 1078.5L611.5 1080.3L614.2 1083.5L617.0 1087.9L619.8 1093.1L622.5 1099.0L625.2 1105.4L628.0 1112.0L630.8 1118.7L633.5 1125.3L636.2 1131.8L639.0 1138.0L641.8 1143.8L644.5 1149.3L647.2 1154.3L650.0 1158.9L652.8 1163.0L655.5 1166.7L658.2 1170.0L661.0 1172.9L663.8 1175.4L666.5 1177.6L669.2 1179.5L672.0 1181.2L674.8 1182.5L677.5 1183.7L680.2 1184.8L683.0 1185.6L685.8 1186.4L688.5 1187.0L691.2 1187.5L694.0 1188.0L696.8 1188.4L699.5 1188.8L702.2 1189.1L705.0 1189.4L707.8 1189.7L710.5 1189.9L713.2 1190.1L716.0 1190.3L718.8 1190.5L721.5 1190.7L724.2 1190.8L727.0 1191.0L729.8 1191.1L732.5 1191.2L735.2 1191.3L738.0 1191.4L740.8 1191.5L743.5 1191.6L746.2 1191.7L749.0 1191.8L751.8 1191.9L754.5 1191.9L757.2 1192.0L760.0 1192.1L762.8 1192.1L765.5 1192.2L768.2 1192.2L771.0 1192.3L773.8 1192.3L776.5 1192.4L779.2 1192.4L782.0 1192.5L784.8 1192.5L787.5 1192.5L790.2 1192.6L793.0 1192.6L795.8 1192.6L798.5 1192.7L801.2 1192.7L804.0 1192.7L806.8 1192.7L809.5 1192.8L812.2 1192.8L815.0 1192.8L817.8 1192.8L820.5 1192.8L823.2 1192.8L826.0 1192.9L828.8 1192.9L831.5 1192.9L834.2 1192.9L837.0 1192.9L839.8 1192.9L842.5 1192.9L845.2 1192.9L848.0 1193.0L850.8 1193.0L853.5 1193.0L856.2 1193.0L859.0 1193.0L861.8 1193.0L864.5 1193.0L867.2 1193.0L870.0 1193.0L872.8 1193.0L875.5 1193.0L878.2 1193.0L881.0 1193.0L883.8 1193.0L886.5 1193.0L889.2 1193.0L892.0 1193.0L894.8 1193.1L897.5 1193.1L900.2 1193.1L903.0 1193.1L905.8 1193.1L908.5 1193.1L911.2 1193.1L914.0 1193.1L916.8 1193.1L919.5 1193.1L922.2 1193.1L925.0 1193.1L927.8 1193.1L930.5 1193.1L933.2 1193.1L936.0 1193.1L938.8 1193.1L941.5 1193.1L944.2 1193.1L947.0 1193.1L949.8 1193.1L952.5 1193.1L955.2 1193.1L958.0 1193.1L960.8 1193.1L963.5 1193.1L966.2 1193.1L969.0 1193.1L971.8 1193.1L974.5 1193.1" fill="none" stroke="#000" stroke-width="2.50" stroke-linejoin="round"/>
<path d="M166.0 1193.1L168.8 1193.1L171.5 1193.1L174.2 1193.1L177.0 1193.1L179.8 1193.1L182.5 1193.1L185.2 1193.1L188.0 1193.1L190.8 1193.1L193.5 1193.1L196.2 1193.1L199.0 1193.1L201.8 1193.1L204.5 1193.1L207.2 1193.1L210.0 1193.1L212.8 1193.1L215.5 1193.1L218.2 1193.1L221.0 1193.1L223.8 1193.1L226.5 1193.1L229.2 1193.1L232.0 1193.1L234.8 1193.1L237.5 1193.1L240.2 1193.1L243.0 1193.1L245.8 1193.1L248.5 1193.1L251.2 1193.1L254.0 1193.1L256.8 1193.1L259.5 1193.1L262.2 1193.1L265.0 1193.1L267.8 1193.1L270.5 1193.1L273.2 1193.1L276.0 1193.1L278.8 1193.1L281.5 1193.1L284.2 1193.1L287.0 1193.1L289.8 1193.1L292.5 1193.1L295.2 1193.1L298.0 1193.1L300.8 1193.1L303.5 1193.1L306.2 1193.1L309.0 1193.1L311.8 1193.1L314.5 1193.1L317.2 1193.1L320.0 1193.1L322.8 1193.1L325.5 1193.1L328.2 1193.1L331.0 1193.1L333.8 1193.1L336.5 1193.1L339.2 1193.1L342.0 1193.1L344.8 1193.1L347.5 1193.1L350.2 1193.1L353.0 1193.1L355.8 1193.1L358.5 1193.1L361.2 1193.1L364.0 1193.1L366.8 1193.1L369.5 1193.1L372.2 1193.1L375.0 1193.1L377.8 1193.1L380.5 1193.1L383.2 1193.0L386.0 1193.0L388.8 1193.0L391.5 1193.0L394.2 1193.0L397.0 1193.0L399.8 1193.0L402.5 1193.0L405.2 1193.0L408.0 1193.0L410.8 1193.0L413.5 1193.0L416.2 1192.9L419.0 1192.9L421.8 1192.9L424.5 1192.9L427.2 1192.9L430.0 1192.8L432.8 1192.8L435.5 1192.8L438.2 1192.8L441.0 1192.7L443.8 1192.7L446.5 1192.7L449.2 1192.6L452.0 1192.6L454.8 1192.5L457.5 1192.5L460.2 1192.4L463.0 1192.3L465.8 1192.2L468.5 1192.1L471.2 1192.0L474.0 1191.8L476.8 1191.7L479.5 1191.4L482.2 1191.2L485.0 1190.9L487.8 1190.5L490.5 1190.0L493.2 1189.4L496.0 1188.7L498.8 1187.9L501.5 1187.0L504.2 1185.8L507.0 1184.5L509.8 1183.1L512.5 1181.4L515.2 1179.5L518.0 1177.4L520.8 1175.1L523.5 1172.7L526.2 1170.0L529.0 1167.3L531.8 1164.5L534.5 1161.7L537.2 1158.9L540.0 1156.3L542.8 1153.8L545.5 1151.6L548.2 1149.9L551.0 1148.6L553.8 1147.8L556.5 1147.6L559.2 1148.0L562.0 1149.0L564.8 1150.5L567.5 1152.4L570.2 1154.7L573.0 1157.2L575.8 1159.9L578.5 1162.7L581.2 1165.5L584.0 1168.3L586.8 1171.0L589.5 1173.6L592.2 1176.0L595.0 1178.2L597.8 1180.2L600.5 1182.0L603.2 1183.6L606.0 1185.0L608.8 1186.3L611.5 1187.3L614.2 1188.2L617.0 1189.0L619.8 1189.6L622.5 1190.2L625.2 1190.6L628.0 1191.0L630.8 1191.3L633.5 1191.5L636.2 1191.7L639.0 1191.9L641.8 1192.0L644.5 1192.2L647.2 1192.3L650.0 1192.3L652.8 1192.4L655.5 1192.5L658.2 1192.5L661.0 1192.6L663.8 1192.6L666.5 1192.7L669.2 1192.7L672.0 1192.7L674.8 1192.8L677.5 1192.8L680.2 1192.8L683.0 1192.9L685.8 1192.9L688.5 1192.9L691.2 1192.9L694.0 1192.9L696.8 1192.9L699.5 1193.0L702.2 1193.0L705.0 1193.0L707.8 1193.0L710.5 1193.0L713.2 1193.0L716.0 1193.0L718.8 1193.0L721.5 1193.0L724.2 1193.0L727.0 1193.0L729.8 1193.0L732.5 1193.1L735.2 1193.1L738.0 1193.1L740.8 1193.1L743.5 1193.1L746.2 1193.1L749.0 1193.1L751.8 1193.1L754.5 1193.1L757.2 1193.1L760.0 1193.1L762.8 1193.1L765.5 1193.1L768.2 1193.1L771.0 1193.1L773.8 1193.1L776.5 1193.1L779.2 1193.1L782.0 1193.1L784.8 1193.1L787.5 1193.1L790.2 1193.1L793.0 1193.1L795.8 1193.1L798.5 1193.1L801.2 1193.1L804.0 1193.1L806.8 1193.1L809.5 1193.1L812.2 1193.1L815.0 1193.1L817.8 1193.1L820.5 1193.1L823.2 1193.1L826.0 1193.1L828.8 1193.1L831.5 1193.1L834.2 1193.1L837.0 1193.1L839.8 1193.1L842.5 1193.1L845.2 1193.1L848.0 1193.1L850.8 1193.1L853.5 1193.1L856.2 1193.1L859.0 1193.1L861.8 1193.1L864.5 1193.1L867.2 1193.1L870.0 1193.1L872.8 1193.1L875.5 1193.1L878.2 1193.1L881.0 1193.1L883.8 1193.1L886.5 1193.1L889.2 1193.1L892.0 1193.1L894.8 1193.1L897.5 1193.1L900.2 1193.1L903.0 1193.1L905.8 1193.1L908.5 1193.1L911.2 1193.1L914.0 1193.1L916.8 1193.1L919.5 1193.1L922.2 1193.1L925.0 1193.1L927.8 1193.1L930.5 1193.1L933.2 1193.1L936.0 1193.1L938.8 1193.1L941.5 1193.1L944.2 1193.1L947.0 1193.1L949.8 1193.1L952.5 1193.1L955.2 1193.1L958.0 1193.1L960.8 1193.1L963.5 1193.1L966.2 1193.1L969.0 1193.1L971.8 1193.1L974.5 1193.1" fill="none" stroke="#000" stroke-width="2.50" stroke-linejoin="round"/>
<path d="M166.0 1192.4L168.8 1192.4L171.5 1192.3L174.2 1192.3L177.0 1192.3L179.8 1192.3L182.5 1192.3L185.2 1192.3L188.0 1192.2L190.8 1192.2L193.5 1192.2L196.2 1192.2L199.0 1192.2L201.8 1192.1L204.5 1192.1L207.2 1192.1L210.0 1192.1L212.8 1192.0L215.5 1192.0L218.2 1192.0L221.0 1191.9L223.8 1191.9L226.5 1191.9L229.2 1191.8L232.0 1191.8L234.8 1191.8L237.5 1191.7L240.2 1191.7L243.0 1191.6L245.8 1191.6L248.5 1191.5L251.2 1191.5L254.0 1191.4L256.8 1191.4L259.5 1191.3L262.2 1191.3L265.0 1191.2L267.8 1191.1L270.5 1191.0L273.2 1190.9L276.0 1190.9L278.8 1190.8L281.5 1190.6L284.2 1190.5L287.0 1190.4L289.8 1190.3L292.5 1190.1L295.2 1190.0L298.0 1189.8L300.8 1189.7L303.5 1189.5L306.2 1189.3L309.0 1189.1L311.8 1188.8L314.5 1188.6L317.2 1188.3L320.0 1188.1L322.8 1187.8L325.5 1187.5L328.2 1187.1L331.0 1186.8L333.8 1186.4L336.5 1186.0L339.2 1185.6L342.0 1185.1L344.8 1184.7L347.5 1184.2L350.2 1183.7L353.0 1183.1L355.8 1182.6L358.5 1182.0L361.2 1181.3L364.0 1180.7L366.8 1180.0L369.5 1179.3L372.2 1178.6L375.0 1177.9L377.8 1177.1L380.5 1176.3L383.2 1175.5L386.0 1174.7L388.8 1173.9L391.5 1173.0L394.2 1172.1L397.0 1171.3L399.8 1170.4L402.5 1169.5L405.2 1168.6L408.0 1167.7L410.8 1166.8L413.5 1166.0L416.2 1165.1L419.0 1164.3L421.8 1163.5L424.5 1162.7L427.2 1161.9L430.0 1161.2L432.8 1160.6L435.5 1160.0L438.2 1159.4L441.0 1158.9L443.8 1158.5L446.5 1158.2L449.2 1157.9L452.0 1157.7L454.8 1157.6L457.5 1157.6L460.2 1157.7L463.0 1157.8L465.8 1158.0L468.5 1158.3L471.2 1158.7L474.0 1159.1L476.8 1159.6L479.5 1160.2L482.2 1160.8L485.0 1161.5L487.8 1162.2L490.5 1163.0L493.2 1163.7L496.0 1164.6L498.8 1165.4L501.5 1166.3L504.2 1167.1L507.0 1168.0L509.8 1168.9L512.5 1169.8L515.2 1170.7L518.0 1171.6L520.8 1172.5L523.5 1173.3L526.2 1174.2L529.0 1175.0L531.8 1175.8L534.5 1176.6L537.2 1177.4L540.0 1178.2L542.8 1178.9L545.5 1179.6L548.2 1180.3L551.0 1180.9L553.8 1181.6L556.5 1182.2L559.2 1182.8L562.0 1183.3L564.8 1183.9L567.5 1184.4L570.2 1184.9L573.0 1185.3L575.8 1185.7L578.5 1186.2L581.2 1186.5L584.0 1186.9L586.8 1187.3L589.5 1187.6L592.2 1187.9L595.0 1188.2L597.8 1188.4L600.5 1188.7L603.2 1188.9L606.0 1189.2L608.8 1189.4L611.5 1189.5L614.2 1189.7L617.0 1189.9L619.8 1190.1L622.5 1190.2L625.2 1190.3L628.0 1190.5L630.8 1190.6L633.5 1190.7L636.2 1190.8L639.0 1190.9L641.8 1191.0L644.5 1191.1L647.2 1191.1L650.0 1191.2L652.8 1191.3L655.5 1191.3L658.2 1191.4L661.0 1191.5L663.8 1191.5L666.5 1191.6L669.2 1191.6L672.0 1191.7L674.8 1191.7L677.5 1191.7L680.2 1191.8L683.0 1191.8L685.8 1191.9L688.5 1191.9L691.2 1191.9L694.0 1192.0L696.8 1192.0L699.5 1192.0L702.2 1192.0L705.0 1192.1L707.8 1192.1L710.5 1192.1L713.2 1192.1L716.0 1192.2L718.8 1192.2L721.5 1192.2L724.2 1192.2L727.0 1192.2L729.8 1192.3L732.5 1192.3L735.2 1192.3L738.0 1192.3L740.8 1192.3L743.5 1192.4L746.2 1192.4L749.0 1192.4L751.8 1192.4L754.5 1192.4L757.2 1192.4L760.0 1192.4L762.8 1192.5L765.5 1192.5L768.2 1192.5L771.0 1192.5L773.8 1192.5L776.5 1192.5L779.2 1192.5L782.0 1192.5L784.8 1192.6L787.5 1192.6L790.2 1192.6L793.0 1192.6L795.8 1192.6L798.5 1192.6L801.2 1192.6L804.0 1192.6L806.8 1192.6L809.5 1192.6L812.2 1192.7L815.0 1192.7L817.8 1192.7L820.5 1192.7L823.2 1192.7L826.0 1192.7L828.8 1192.7L831.5 1192.7L834.2 1192.7L837.0 1192.7L839.8 1192.7L842.5 1192.7L845.2 1192.7L848.0 1192.8L850.8 1192.8L853.5 1192.8L856.2 1192.8L859.0 1192.8L861.8 1192.8L864.5 1192.8L867.2 1192.8L870.0 1192.8L872.8 1192.8L875.5 1192.8L878.2 1192.8L881.0 1192.8L883.8 1192.8L886.5 1192.8L889.2 1192.8L892.0 1192.8L894.8 1192.9L897.5 1192.9L900.2 1192.9L903.0 1192.9L905.8 1192.9L908.5 1192.9L911.2 1192.9L914.0 1192.9L916.8 1192.9L919.5 1192.9L922.2 1192.9L925.0 1192.9L927.8 1192.9L930.5 1192.9L933.2 1192.9L936.0 1192.9L938.8 1192.9L941.5 1192.9L944.2 1192.9L947.0 1192.9L949.8 1192.9L952.5 1192.9L955.2 1192.9L958.0 1192.9L960.8 1192.9L963.5 1192.9L966.2 1192.9L969.0 1192.9L971.8 1192.9L974.5 1193.0" fill="none" stroke="#000" stroke-width="2.50" stroke-linejoin="round"/>
<path d="M166.0 1192.4L168.8 1192.4L171.5 1192.3L174.2 1192.3L177.0 1192.3L179.8 1192.3L182.5 1192.3L185.2 1192.3L188.0 1192.2L190.8 1192.2L193.5 1192.2L196.2 1192.2L199.0 1192.2L201.8 1192.1L204.5 1192.1L207.2 1192.1L210.0 1192.1L212.8 1192.0L215.5 1192.0L218.2 1192.0L221.0 1191.9L223.8 1191.9L226.5 1191.9L229.2 1191.8L232.0 1191.8L234.8 1191.8L237.5 1191.7L240.2 1191.7L243.0 1191.6L245.8 1191.6L248.5 1191.5L251.2 1191.5L254.0 1191.4L256.8 1191.4L259.5 1191.3L262.2 1191.2L265.0 1191.2L267.8 1191.1L270.5 1191.0L273.2 1190.9L276.0 1190.8L278.8 1190.7L281.5 1190.6L284.2 1190.5L287.0 1190.4L289.8 1190.3L292.5 1190.1L295.2 1190.0L298.0 1189.8L300.8 1189.6L303.5 1189.4L306.2 1189.2L309.0 1189.0L311.8 1188.8L314.5 1188.5L317.2 1188.3L320.0 1188.0L322.8 1187.7L325.5 1187.4L328.2 1187.0L331.0 1186.7L333.8 1186.3L336.5 1185.9L339.2 1185.5L342.0 1185.0L344.8 1184.5L347.5 1184.0L350.2 1183.5L353.0 1182.9L355.8 1182.4L358.5 1181.7L361.2 1181.1L364.0 1180.4L366.8 1179.8L369.5 1179.0L372.2 1178.3L375.0 1177.5L377.8 1176.7L380.5 1175.9L383.2 1175.1L386.0 1174.2L388.8 1173.4L391.5 1172.5L394.2 1171.6L397.0 1170.6L399.8 1169.7L402.5 1168.8L405.2 1167.8L408.0 1166.9L410.8 1166.0L413.5 1165.0L416.2 1164.1L419.0 1163.2L421.8 1162.3L424.5 1161.4L427.2 1160.6L430.0 1159.8L432.8 1159.1L435.5 1158.3L438.2 1157.7L441.0 1157.1L443.8 1156.5L446.5 1156.0L449.2 1155.6L452.0 1155.2L454.8 1154.9L457.5 1154.7L460.2 1154.6L463.0 1154.5L465.8 1154.4L468.5 1154.4L471.2 1154.5L474.0 1154.6L476.8 1154.7L479.5 1154.8L482.2 1154.9L485.0 1155.0L487.8 1155.0L490.5 1155.0L493.2 1154.9L496.0 1154.6L498.8 1154.3L501.5 1153.8L504.2 1153.1L507.0 1152.2L509.8 1151.1L512.5 1149.7L515.2 1148.0L518.0 1146.1L520.8 1143.9L523.5 1141.5L526.2 1138.7L529.0 1135.7L531.8 1132.5L534.5 1129.0L537.2 1125.4L540.0 1121.6L542.8 1117.8L545.5 1113.9L548.2 1110.0L551.0 1106.1L553.8 1102.3L556.5 1098.6L559.2 1095.0L562.0 1091.2L564.8 1087.4L567.5 1083.4L570.2 1078.9L573.0 1074.1L575.8 1068.6L578.5 1062.5L581.2 1055.7L584.0 1048.2L586.8 1039.9L589.5 1030.9L592.2 1021.2L595.0 1010.9L597.8 1000.2L600.5 989.1L603.2 977.8L606.0 966.3L608.8 954.6L611.5 942.6L614.2 930.3L617.0 917.5L619.8 904.0L622.5 889.7L625.2 874.7L628.0 858.9L630.8 842.4L633.5 825.4L636.2 808.3L639.0 791.6L641.8 775.6L644.5 761.2L647.2 748.8L650.0 739.3L652.8 733.3L655.5 731.3L658.2 733.6L661.0 740.4L663.8 751.6L666.5 766.6L669.2 785.1L672.0 806.4L674.8 829.7L677.5 854.4L680.2 879.9L683.0 905.6L685.8 931.1L688.5 955.9L691.2 979.8L694.0 1002.5L696.8 1023.8L699.5 1043.5L702.2 1061.5L705.0 1078.0L707.8 1092.7L710.5 1105.9L713.2 1117.5L716.0 1127.7L718.8 1136.5L721.5 1144.2L724.2 1150.7L727.0 1156.3L729.8 1161.1L732.5 1165.1L735.2 1168.5L738.0 1171.4L740.8 1173.9L743.5 1176.0L746.2 1177.7L749.0 1179.3L751.8 1180.6L754.5 1181.7L757.2 1182.7L760.0 1183.6L762.8 1184.3L765.5 1185.0L768.2 1185.6L771.0 1186.2L773.8 1186.7L776.5 1187.2L779.2 1187.6L782.0 1188.0L784.8 1188.3L787.5 1188.7L790.2 1189.0L793.0 1189.3L795.8 1189.5L798.5 1189.8L801.2 1190.0L804.0 1190.2L806.8 1190.4L809.5 1190.6L812.2 1190.8L815.0 1190.9L817.8 1191.1L820.5 1191.2L823.2 1191.3L826.0 1191.4L828.8 1191.5L831.5 1191.6L834.2 1191.7L837.0 1191.8L839.8 1191.9L842.5 1192.0L845.2 1192.0L848.0 1192.1L850.8 1192.2L853.5 1192.2L856.2 1192.3L859.0 1192.3L861.8 1192.4L864.5 1192.4L867.2 1192.4L870.0 1192.5L872.8 1192.5L875.5 1192.5L878.2 1192.6L881.0 1192.6L883.8 1192.6L886.5 1192.6L889.2 1192.7L892.0 1192.7L894.8 1192.7L897.5 1192.7L900.2 1192.7L903.0 1192.7L905.8 1192.8L908.5 1192.8L911.2 1192.8L914.0 1192.8L916.8 1192.8L919.5 1192.8L922.2 1192.8L925.0 1192.8L927.8 1192.8L930.5 1192.9L933.2 1192.9L936.0 1192.9L938.8 1192.9L941.5 1192.9L944.2 1192.9L947.0 1192.9L949.8 1192.9L952.5 1192.9L955.2 1192.9L958.0 1192.9L960.8 1192.9L963.5 1192.9L966.2 1192.9L969.0 1192.9L971.8 1192.9L974.5 1192.9" fill="none" stroke="#000" stroke-width="2.50" stroke-linejoin="round"/>
<path d="M166.0 1184.7L168.8 1185.5L171.5 1195.2L174.2 1194.0L177.0 1195.3L179.8 1189.1L182.5 1192.6L185.2 1188.0L188.0 1202.7L190.8 1183.4L193.5 1192.7L196.2 1188.3L199.0 1192.9L201.8 1194.3L204.5 1189.5L207.2 1187.4L210.0 1193.2L212.8 1192.9L215.5 1188.1L218.2 1196.9L221.0 1200.5L223.8 1189.7L226.5 1195.7L229.2 1202.6L232.0 1196.4L234.8 1194.4L237.5 1198.5L240.2 1200.1L243.0 1206.9L245.8 1186.5L248.5 1192.9L251.2 1195.7L254.0 1189.3L256.8 1187.3L259.5 1193.0L262.2 1188.2L265.0 1185.3L267.8 1192.3L270.5 1195.6L273.2 1189.0L276.0 1189.4L278.8 1184.5L281.5 1197.9L284.2 1194.3L287.0 1195.1L289.8 1200.1L292.5 1189.4L295.2 1187.0L298.0 1194.0L300.8 1181.8L303.5 1184.8L306.2 1185.7L309.0 1186.7L311.8 1183.4L314.5 1196.1L317.2 1184.8L320.0 1184.6L322.8 1197.8L325.5 1185.4L328.2 1188.5L331.0 1182.2L333.8 1188.8L336.5 1186.0L339.2 1183.5L342.0 1190.0L344.8 1181.1L347.5 1184.6L350.2 1180.7L353.0 1185.9L355.8 1176.1L358.5 1178.2L361.2 1182.1L364.0 1176.8L366.8 1172.4L369.5 1168.6L372.2 1187.5L375.0 1172.4L377.8 1174.0L380.5 1176.5L383.2 1181.0L386.0 1166.9L388.8 1180.8L391.5 1169.1L394.2 1163.9L397.0 1180.1L399.8 1171.5L402.5 1176.6L405.2 1166.4L408.0 1157.9L410.8 1153.9L413.5 1175.7L416.2 1167.5L419.0 1159.0L421.8 1152.8L424.5 1158.9L427.2 1165.1L430.0 1158.0L432.8 1159.2L435.5 1159.6L438.2 1162.1L441.0 1154.7L443.8 1154.6L446.5 1156.6L449.2 1156.9L452.0 1163.1L454.8 1157.9L457.5 1147.3L460.2 1155.7L463.0 1163.2L465.8 1146.2L468.5 1151.1L471.2 1141.5L474.0 1154.1L476.8 1157.4L479.5 1163.5L482.2 1146.6L485.0 1139.0L487.8 1159.7L490.5 1158.5L493.2 1150.7L496.0 1159.1L498.8 1155.2L501.5 1155.0L504.2 1150.8L507.0 1144.1L509.8 1149.3L512.5 1142.1L515.2 1148.4L518.0 1141.5L520.8 1152.8L523.5 1147.2L526.2 1129.8L529.0 1135.1L531.8 1123.9L534.5 1120.1L537.2 1110.8L540.0 1109.7L542.8 1103.9L545.5 1106.9L548.2 1106.3L551.0 1102.2L553.8 1096.4L556.5 1096.6L559.2 1088.6L562.0 1081.5L564.8 1075.0L567.5 1074.9L570.2 1081.3L573.0 1063.7L575.8 1056.2L578.5 1044.1L581.2 1041.1L584.0 1042.7L586.8 1035.4L589.5 1006.5L592.2 1006.5L595.0 988.5L597.8 975.8L600.5 988.3L603.2 968.0L606.0 956.4L608.8 944.4L611.5 933.1L614.2 924.1L617.0 912.0L619.8 913.4L622.5 888.1L625.2 878.7L628.0 855.4L630.8 844.7L633.5 818.0L636.2 799.2L639.0 787.4L641.8 771.6L644.5 759.4L647.2 752.6L650.0 740.4L652.8 737.9L655.5 699.7L658.2 733.2L661.0 734.4L663.8 764.5L666.5 757.8L669.2 792.4L672.0 813.2L674.8 831.4L677.5 859.4L680.2 877.2L683.0 910.5L685.8 940.1L688.5 962.8L691.2 969.4L694.0 1002.1L696.8 1032.6L699.5 1043.4L702.2 1072.7L705.0 1065.4L707.8 1103.1L710.5 1102.7L713.2 1113.9L716.0 1137.0L718.8 1134.6L721.5 1137.9L724.2 1147.8L727.0 1154.7L729.8 1155.4L732.5 1164.2L735.2 1166.5L738.0 1172.2L740.8 1170.2L743.5 1181.5L746.2 1173.1L749.0 1182.2L751.8 1186.9L754.5 1179.6L757.2 1172.9L760.0 1178.0L762.8 1187.3L765.5 1181.0L768.2 1188.2L771.0 1186.9L773.8 1186.2L776.5 1198.0L779.2 1186.5L782.0 1193.8L784.8 1192.3L787.5 1197.1L790.2 1197.6L793.0 1194.6L795.8 1184.8L798.5 1180.3L801.2 1190.1L804.0 1184.0L806.8 1191.9L809.5 1201.3L812.2 1189.9L815.0 1188.4L817.8 1193.5L820.5 1189.5L823.2 1188.1L826.0 1196.3L828.8 1199.9L831.5 1192.9L834.2 1192.9L837.0 1193.8L839.8 1186.3L842.5 1182.2L845.2 1194.4L848.0 1188.2L850.8 1186.8L853.5 1188.2L856.2 1186.4L859.0 1194.5L861.8 1188.2L864.5 1181.0L867.2 1187.9L870.0 1196.0L872.8 1189.1L875.5 1185.4L878.2 1190.5L881.0 1195.8L883.8 1183.9L886.5 1199.7L889.2 1189.8L892.0 1192.8L894.8 1199.4L897.5 1185.8L900.2 1190.8L903.0 1199.3L905.8 1189.4L908.5 1195.2L911.2 1203.5L914.0 1196.7L916.8 1191.3L919.5 1189.2L922.2 1191.9L925.0 1192.6L927.8 1190.2L930.5 1194.0L933.2 1186.2L936.0 1192.0L938.8 1191.2L941.5 1189.8L944.2 1198.8L947.0 1196.9L949.8 1184.3L952.5 1191.0L955.2 1194.5L958.0 1191.0L960.8 1195.6L963.5 1191.4L966.2 1196.7L969.0 1191.4L971.8 1201.8L974.5 1185.4" fill="none" stroke="#000" stroke-width="2.50" stroke-linejoin="round"/>
</svg></body></html>
